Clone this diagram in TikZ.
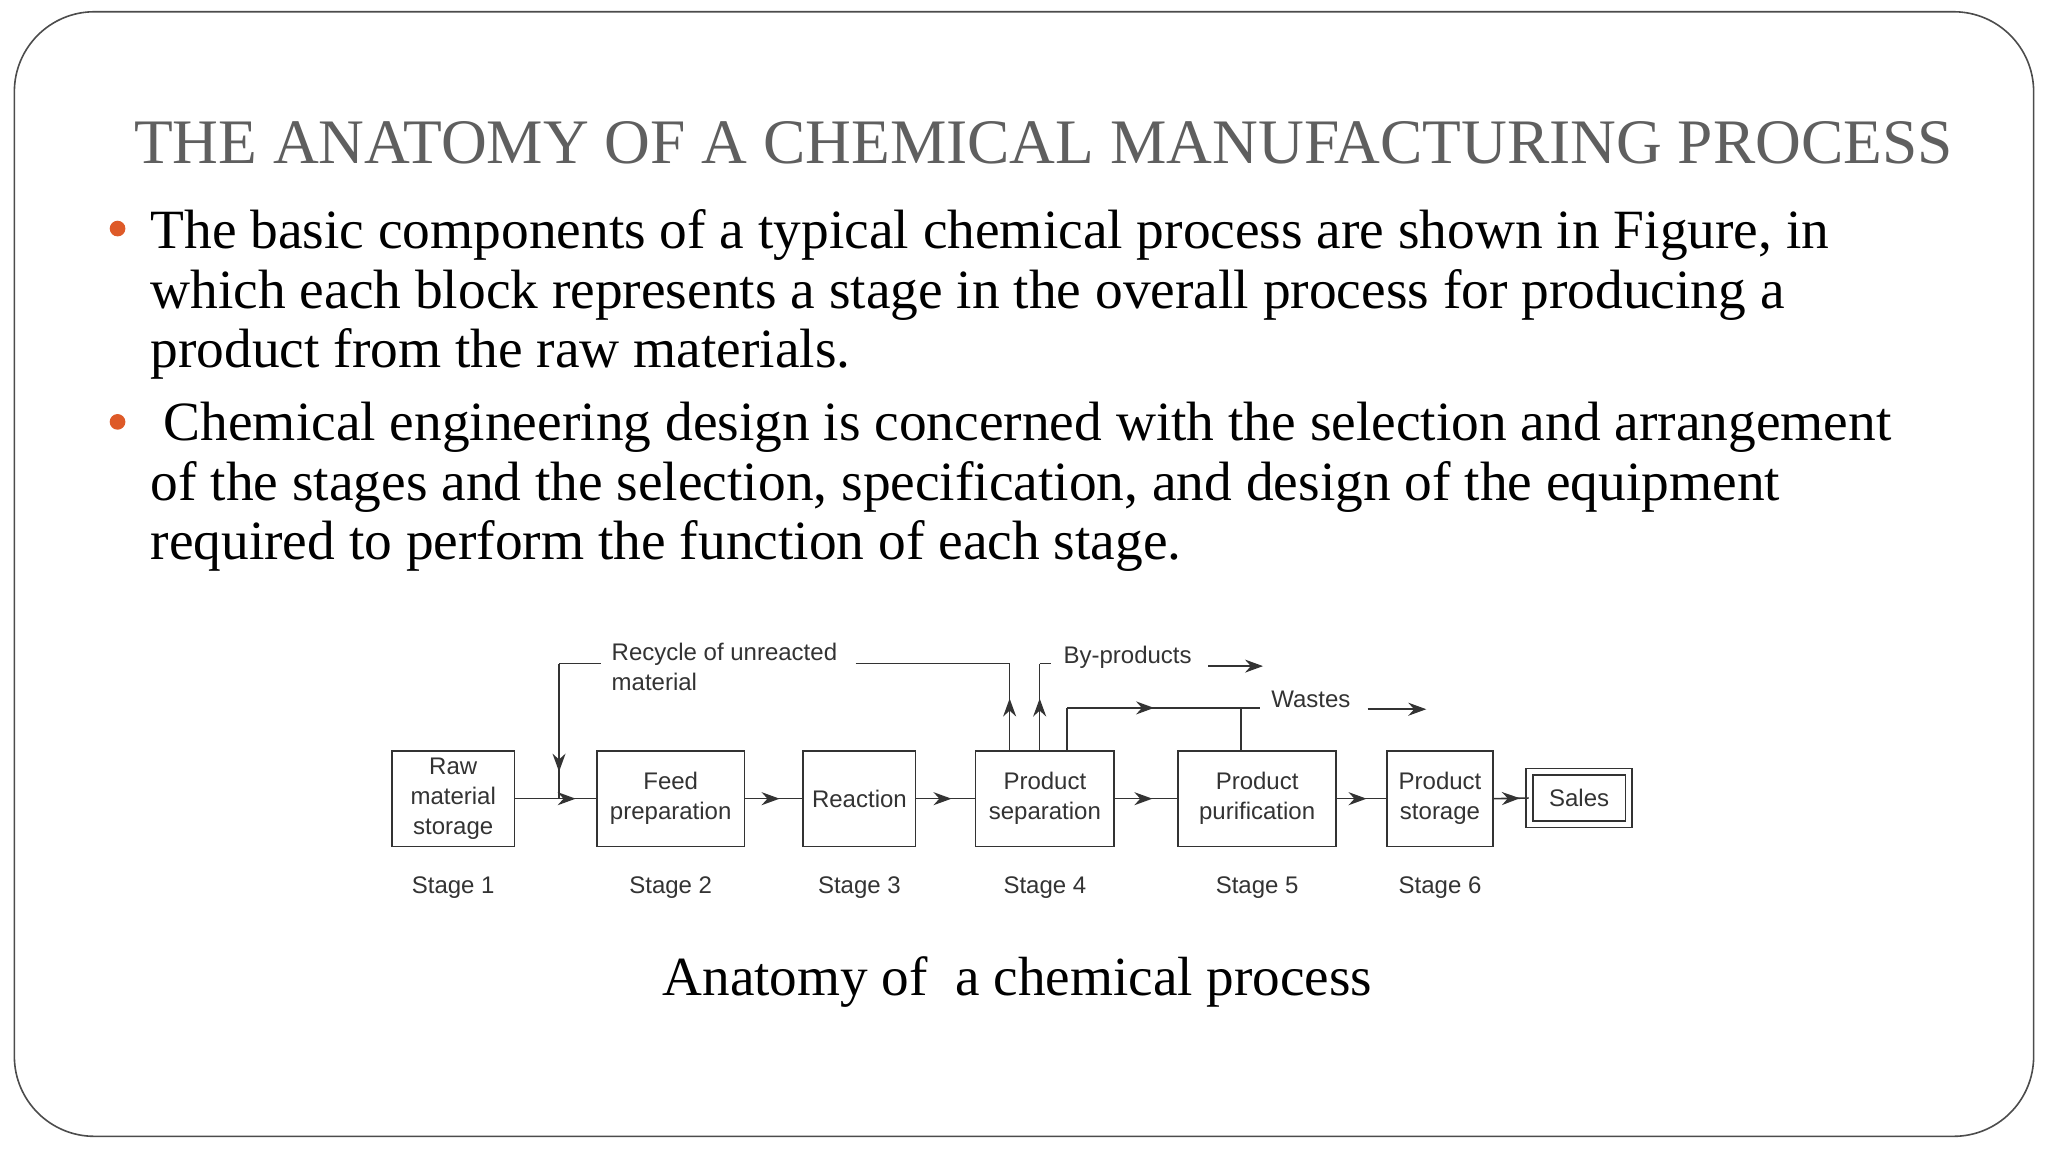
\documentclass[tikz,border=0pt]{standalone}
\usepackage{fontspec}
\setmainfont{Liberation Serif}
\newfontfamily\diagfont{Liberation Sans}
\usetikzlibrary{arrows.meta,decorations.markings}
\definecolor{titlegray}{RGB}{95,95,95}
\definecolor{bulletorange}{RGB}{222,90,40}
\tikzset{
  blk/.style={draw=black!80,line width=0.8pt,fill=white,align=center,inner sep=0pt,font=\diagfont\fontsize{12}{15}\selectfont,text=black!80},
  lbl/.style={font=\diagfont\fontsize{12}{15}\selectfont,text=black!80},
  ln/.style={draw=black!80,line width=0.8pt},
  midarrow/.style={ln,postaction={decorate},decoration={markings,mark=at position #1 with {\arrow{Stealth[length=9pt,width=6.5pt]}}}},
  endarrow/.style={ln,-{Stealth[length=9pt,width=6.5pt]}},
  body/.style={anchor=base west,inner sep=0pt,font=\fontsize{27.7}{33}\selectfont},
}
\begin{document}
\begin{tikzpicture}[x=0.653pt,y=-0.653pt]
\useasboundingbox (0,0) rectangle (1568,882);
\fill[white] (0,0) rectangle (1568,882);
\draw[black!70,line width=0.8pt,rounded corners=40] (11,9) rectangle (1557,870);
\node[anchor=base,inner sep=0pt,text=titlegray,font=\fontsize{31.7}{38}\selectfont] (title) at (799,125) {THE ANATOMY OF A CHEMICAL MANUFACTURING PROCESS};
\fill[bulletorange] (90,175) circle (6);
\fill[bulletorange] (90,323) circle (6);
\node[body] (l1) at (115,190) {The basic components of a typical chemical process are shown in Figure, in};
\node[body] (l2) at (115,236) {which each block represents a stage in the overall process for producing a};
\node[body] (l3) at (115,281) {product from the raw materials.};
\node[body] (l4) at (125,337) {Chemical engineering design is concerned with the selection and arrangement};
\node[body] (l5) at (115,383) {of the stages and the selection, specification, and design of the equipment};
\node[body] (l6) at (115,428) {required to perform the function of each stage.};
% blocks
\node[blk,minimum width=94*0.653pt,minimum height=73*0.653pt] (raw) at (347,611.5) {Raw\\material\\storage};
\node[blk,minimum width=113*0.653pt,minimum height=73*0.653pt] (feed) at (513.5,611.5) {Feed\\preparation};
\node[blk,minimum width=86*0.653pt,minimum height=73*0.653pt] (react) at (658,611.5) {Reaction};
\node[blk,minimum width=106*0.653pt,minimum height=73*0.653pt] (sep) at (800,611.5) {Product\\separation};
\node[blk,minimum width=121*0.653pt,minimum height=73*0.653pt] (pur) at (962.5,611.5) {Product\\purification};
\node[blk,minimum width=81*0.653pt,minimum height=73*0.653pt] (sto) at (1102.5,611.5) {Product\\storage};
\node[blk,double,double distance=2.5pt,minimum width=76*0.653pt,minimum height=40*0.653pt] (sales) at (1209,611) {Sales};
\foreach \n/\x/\t in {s1/347/1,s2/513.5/2,s3/658/3,s4/800/4,s5/962.5/5,s6/1102.5/6}
  \node[lbl,anchor=base] (\n) at (\x,684) {Stage \t};
% main flow
\coordinate (j) at (428,611.5);
\draw[ln] (raw.east) -- (j);
\draw[midarrow=0.45] (j) -- (feed.west);
\draw[midarrow=0.6] (feed.east) -- (react.west);
\draw[midarrow=0.6] (react.east) -- (sep.west);
\draw[midarrow=0.6] (sep.east) -- (pur.west);
\draw[midarrow=0.6] (pur.east) -- (sto.west);
\draw[midarrow=0.75] (sto.east) -- (sales.west);
% recycle
\node[lbl,anchor=north west,align=left,inner sep=0pt] (rec) at (468,492) {Recycle of unreacted\\material};
\coordinate (r1) at (460,508);
\coordinate (r0) at (428,508);
\coordinate (r2) at (655,508);
\coordinate (r3) at (773,508);
\coordinate (sepA) at (773,575);
\draw[ln] (r1) -- (r0);
\draw[midarrow=0.8] (r0) -- (j);
\draw[ln] (r2) -- (r3);
\draw[midarrow=0.6] (sepA) -- (r3);
% by-products
\coordinate (sepB) at (796,575);
\coordinate (b1) at (796,508);
\coordinate (b2) at (805,508);
\draw[midarrow=0.6] (sepB) -- (b1);
\draw[ln] (b1) -- (b2);
\node[lbl,anchor=base west,inner sep=0pt] (byp) at (814,508) {By-products};
\coordinate (b3) at (925,510);
\coordinate (b4) at (967,510);
\draw[endarrow] (b3) -- (b4);
% wastes
\coordinate (sepC) at (817,575);
\coordinate (w1) at (817,542);
\coordinate (w2) at (965,542);
\coordinate (purA) at (950,575);
\coordinate (w3) at (950,542);
\draw[ln] (sepC) -- (w1);
\draw[midarrow=0.45] (w1) -- (w2);
\draw[ln] (purA) -- (w3);
\node[lbl,anchor=base west,inner sep=0pt] (wst) at (973,542) {Wastes};
\coordinate (w4) at (1047,543);
\coordinate (w5) at (1092,543);
\draw[endarrow] (w4) -- (w5);
% caption
\node[anchor=base,inner sep=0pt,font=\fontsize{27.6}{32}\selectfont] (cap) at (779,762) {Anatomy of\ \ a chemical process};
\end{tikzpicture}
\end{document}
